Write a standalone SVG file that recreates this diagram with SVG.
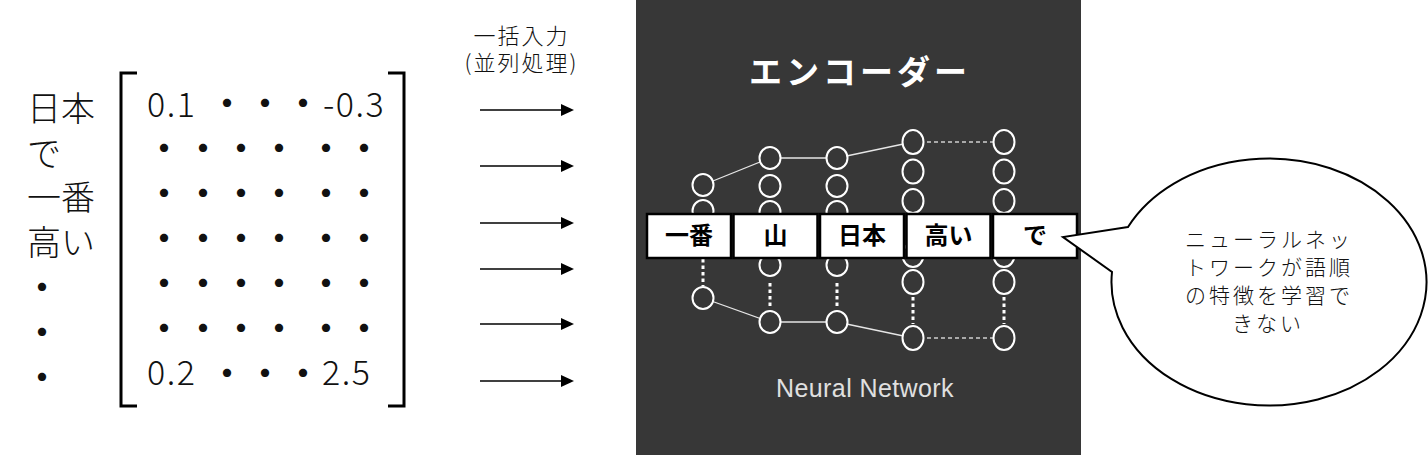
<svg xmlns="http://www.w3.org/2000/svg" width="1428" height="455" viewBox="0 0 1428 455">
<defs>
<style>
.jp{font-family:"Noto Sans CJK JP","Noto Sans",sans-serif;}
.lt{font-weight:300;fill:#111;}
.num{font-size:34px;letter-spacing:1.5px;}
.tok{font-size:24px;font-weight:bold;fill:#000;text-anchor:middle;}
.box{fill:#fff;stroke:#000;stroke-width:2.5;}
.nd{fill:#373737;stroke:#fff;stroke-width:2;}
.link{stroke:#e6e6e6;stroke-width:1.3;fill:none;}
.dash{stroke:#cfcfcf;stroke-width:1.5;stroke-dasharray:4 3;fill:none;}
.vdot{stroke:#fff;stroke-width:3;stroke-dasharray:3.5 3;fill:none;}
.arr{stroke:#000;stroke-width:1.5;fill:none;marker-end:url(#ah);}
.dots{font-size:32px;font-weight:bold;fill:#111;text-anchor:middle;}
</style>
<marker id="ah" markerUnits="userSpaceOnUse" markerWidth="14" markerHeight="12" refX="0" refY="6" orient="auto">
<path d="M0,0 L13,6 L0,12 z" fill="#000"/>
</marker>
</defs>
<rect width="1428" height="455" fill="#fff"/>

<g id="word-list">
<text class="jp lt" font-size="34" x="27" y="121">日本</text>
<text class="jp lt" font-size="34" x="27" y="165.7">で</text>
<text class="jp lt" font-size="34" x="27" y="210.3">一番</text>
<text class="jp lt" font-size="34" x="27" y="255">高い</text>
<text class="jp dots" x="42" y="299">・</text>
<text class="jp dots" x="42" y="344">・</text>
<text class="jp dots" x="42" y="389">・</text>
</g>

<g id="matrix">
<path d="M137,73 H121 V406 H137" fill="none" stroke="#000" stroke-width="3"/>
<path d="M388,73 H404 V406 H388" fill="none" stroke="#000" stroke-width="3"/>
<text class="jp lt num" x="147" y="117">0.1</text>
<text class="jp lt num" x="323" y="117">-0.3</text>
<text class="jp dots" x="227 265 303" y="115">・・・</text>
<text class="jp dots" x="164 203 241 279 326 364" y="160">・・・・・・</text>
<text class="jp dots" x="164 203 241 279 326 364" y="205">・・・・・・</text>
<text class="jp dots" x="164 203 241 279 326 364" y="250">・・・・・・</text>
<text class="jp dots" x="164 203 241 279 326 364" y="295">・・・・・・</text>
<text class="jp dots" x="164 203 241 279 326 364" y="340">・・・・・・</text>
<text class="jp lt num" x="147" y="385">0.2</text>
<text class="jp dots" x="227 265 303" y="385">・・・</text>
<text class="jp lt num" x="322" y="385">2.5</text>
</g>

<g id="batch-label">
<text class="jp lt" font-size="22" letter-spacing="2" text-anchor="middle" x="521.5" y="44">一括入力</text>
<text class="jp lt" font-size="22" letter-spacing="2" text-anchor="middle" x="521.5" y="71">(並列処理)</text>
</g>

<g id="input-arrows">
<line class="arr" x1="480" y1="110" x2="561" y2="110"/>
<line class="arr" x1="480" y1="166" x2="561" y2="166"/>
<line class="arr" x1="480" y1="223" x2="561" y2="223"/>
<line class="arr" x1="480" y1="269" x2="561" y2="269"/>
<line class="arr" x1="480" y1="324" x2="561" y2="324"/>
<line class="arr" x1="480" y1="381" x2="561" y2="381"/>
</g>

<g id="encoder">
<rect x="636" y="0" width="445" height="455" fill="#373737"/>
<text class="jp" font-size="33" font-weight="bold" fill="#fff" letter-spacing="4" text-anchor="middle" x="860" y="84">エンコーダー</text>
<text font-family="Liberation Sans, sans-serif" font-size="25" fill="#e0e0e0" letter-spacing="0.4" text-anchor="middle" x="865" y="397">Neural Network</text>
</g>

<g id="nn-connectors">
<line class="link" x1="703" y1="185" x2="770" y2="158"/>
<line class="link" x1="770" y1="158" x2="837" y2="158"/>
<line class="link" x1="837" y1="158" x2="913" y2="142"/>
<line class="dash" x1="913" y1="142" x2="1004" y2="142"/>
<line class="link" x1="703" y1="298" x2="770" y2="322"/>
<line class="link" x1="770" y1="322" x2="837" y2="322"/>
<line class="link" x1="837" y1="322" x2="913" y2="338"/>
<line class="dash" x1="913" y1="338" x2="1004" y2="338"/>
<line class="vdot" x1="703" y1="259" x2="703" y2="286"/>
<line class="vdot" x1="770" y1="283" x2="770" y2="309"/>
<line class="vdot" x1="837" y1="283" x2="837" y2="309"/>
<line class="vdot" x1="913" y1="297" x2="913" y2="324"/>
<line class="vdot" x1="1004" y1="297" x2="1004" y2="324"/>
</g>

<g id="nn-col1">
<ellipse class="nd" cx="703" cy="185" rx="10.5" ry="11"/>
<ellipse class="nd" cx="703" cy="211" rx="10.5" ry="11"/>
<ellipse class="nd" cx="703" cy="298" rx="10.5" ry="11"/>
</g>
<g id="nn-col2">
<ellipse class="nd" cx="770" cy="158" rx="10.5" ry="11"/>
<ellipse class="nd" cx="770" cy="186" rx="10.5" ry="11"/>
<ellipse class="nd" cx="770" cy="212" rx="10.5" ry="11"/>
<ellipse class="nd" cx="770" cy="265" rx="10.5" ry="11"/>
<ellipse class="nd" cx="770" cy="322" rx="10.5" ry="11"/>
</g>
<g id="nn-col3">
<ellipse class="nd" cx="837" cy="158" rx="10.5" ry="11"/>
<ellipse class="nd" cx="837" cy="186" rx="10.5" ry="11"/>
<ellipse class="nd" cx="837" cy="212" rx="10.5" ry="11"/>
<ellipse class="nd" cx="837" cy="265" rx="10.5" ry="11"/>
<ellipse class="nd" cx="837" cy="322" rx="10.5" ry="11"/>
</g>
<g id="nn-col4">
<ellipse class="nd" cx="913" cy="142" rx="10.5" ry="12"/>
<ellipse class="nd" cx="913" cy="171.5" rx="10.5" ry="12"/>
<ellipse class="nd" cx="913" cy="201" rx="10.5" ry="12"/>
<ellipse class="nd" cx="913" cy="255" rx="10.5" ry="12"/>
<ellipse class="nd" cx="913" cy="282" rx="10.5" ry="12"/>
<ellipse class="nd" cx="913" cy="338" rx="10.5" ry="12"/>
</g>
<g id="nn-col5">
<ellipse class="nd" cx="1004" cy="142" rx="10.5" ry="12"/>
<ellipse class="nd" cx="1004" cy="171.5" rx="10.5" ry="12"/>
<ellipse class="nd" cx="1004" cy="201" rx="10.5" ry="12"/>
<ellipse class="nd" cx="1004" cy="255" rx="10.5" ry="12"/>
<ellipse class="nd" cx="1004" cy="282" rx="10.5" ry="12"/>
<ellipse class="nd" cx="1004" cy="338" rx="10.5" ry="12"/>
</g>

<g id="token-ichiban">
<rect class="box" x="647" y="214" width="84" height="44"/>
<text class="jp tok" x="689" y="244">一番</text>
</g>
<g id="token-yama">
<rect class="box" x="733.5" y="214" width="84" height="44"/>
<text class="jp tok" x="775.5" y="244">山</text>
</g>
<g id="token-nihon">
<rect class="box" x="820" y="214" width="84" height="44"/>
<text class="jp tok" x="862" y="244">日本</text>
</g>
<g id="token-takai">
<rect class="box" x="906.5" y="214" width="84" height="44"/>
<text class="jp tok" x="948.5" y="244">高い</text>
</g>
<g id="token-de">
<rect class="box" x="993" y="214" width="84" height="44"/>
<text class="jp tok" x="1035" y="244">で</text>
</g>

<g id="callout">
<path d="M1128,227 L1063,237 L1112,272 A157.5 123.5 0 1 0 1128,227 Z" fill="#fff" stroke="#000" stroke-width="2"/>
<text class="jp lt" font-size="21" letter-spacing="3" text-anchor="middle" x="1269" y="247">ニューラルネッ</text>
<text class="jp lt" font-size="21" letter-spacing="3" text-anchor="middle" x="1269" y="275">トワークが語順</text>
<text class="jp lt" font-size="21" letter-spacing="3" text-anchor="middle" x="1269" y="303">の特徴を学習で</text>
<text class="jp lt" font-size="21" letter-spacing="3" text-anchor="middle" x="1268" y="331">きない</text>
</g>
</svg>
